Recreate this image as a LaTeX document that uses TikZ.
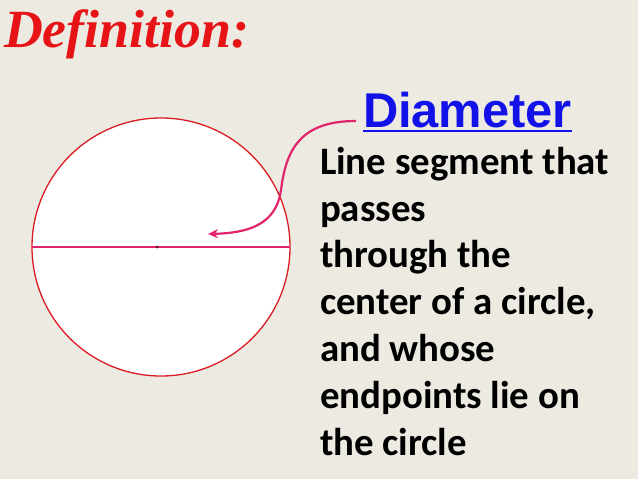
\documentclass[tikz,border=0pt]{standalone}
\usepackage{fontspec}
\usepackage{tikz}
\usetikzlibrary{arrows.meta}
\newfontfamily\titlefont{Liberation Serif}
\newfontfamily\headfont{Liberation Sans}
\newfontfamily\bodyfont{Carlito}
\definecolor{bgcream}{RGB}{237,234,226}
\definecolor{titlered}{RGB}{230,20,22}
\definecolor{ringred}{RGB}{218,28,36}
\definecolor{diapink}{RGB}{226,36,108}
\definecolor{headblue}{RGB}{18,18,232}
\definecolor{dotdark}{RGB}{90,20,30}
\begin{document}
\begin{tikzpicture}[x=1bp,y=-1bp,
                    every node/.style={inner sep=0pt,outer sep=0pt},
                    ring/.style={circle,draw=ringred,line width=1.3bp,fill=white},
                    dia/.style={draw=diapink,line width=2bp},
                    pointer/.style={draw=diapink,line width=2.2bp,-{Stealth[length=10bp,width=9bp]}}]
  \fill[bgcream] (0,0) rectangle (638,479);
  \useasboundingbox (0,0) rectangle (638,479);
  \node[anchor=base west,text=titlered,
        font=\titlefont\bfseries\itshape\fontsize{54}{60}\selectfont] (title) at (4,48) {Definition:};
  \node[ring,minimum size=258bp] (circ) at (161,247) {};
  \draw[dia] (circ.west) -- (circ.east);
  \node[circle,fill=dotdark,minimum size=3bp] (ctr) at (157,247) {};
  \node[anchor=base west,text=headblue,
        font=\headfont\bfseries\fontsize{49}{55}\selectfont] (head) at (363,128) {Diameter};
  \draw[headblue,line width=2bp] ([yshift=-3.5bp]head.base west) -- ([yshift=-3.5bp]head.base east);
  \node[anchor=north west,align=left,
        font=\bodyfont\bfseries\fontsize{39}{47}\selectfont] (defn) at (320,147)
    {Line segment that\\passes\\through the\\center of a circle,\\and whose\\endpoints lie on\\the circle};
  \coordinate (tail) at ([xshift=-7bp,yshift=7bp]head.base west);
  \coordinate (tip) at (208,234);
  \draw[pointer] (tail) .. controls (300,121) and (286,150) .. (281,190)
                        .. controls (276,226) and (246,233) .. (tip);
\end{tikzpicture}
\end{document}
